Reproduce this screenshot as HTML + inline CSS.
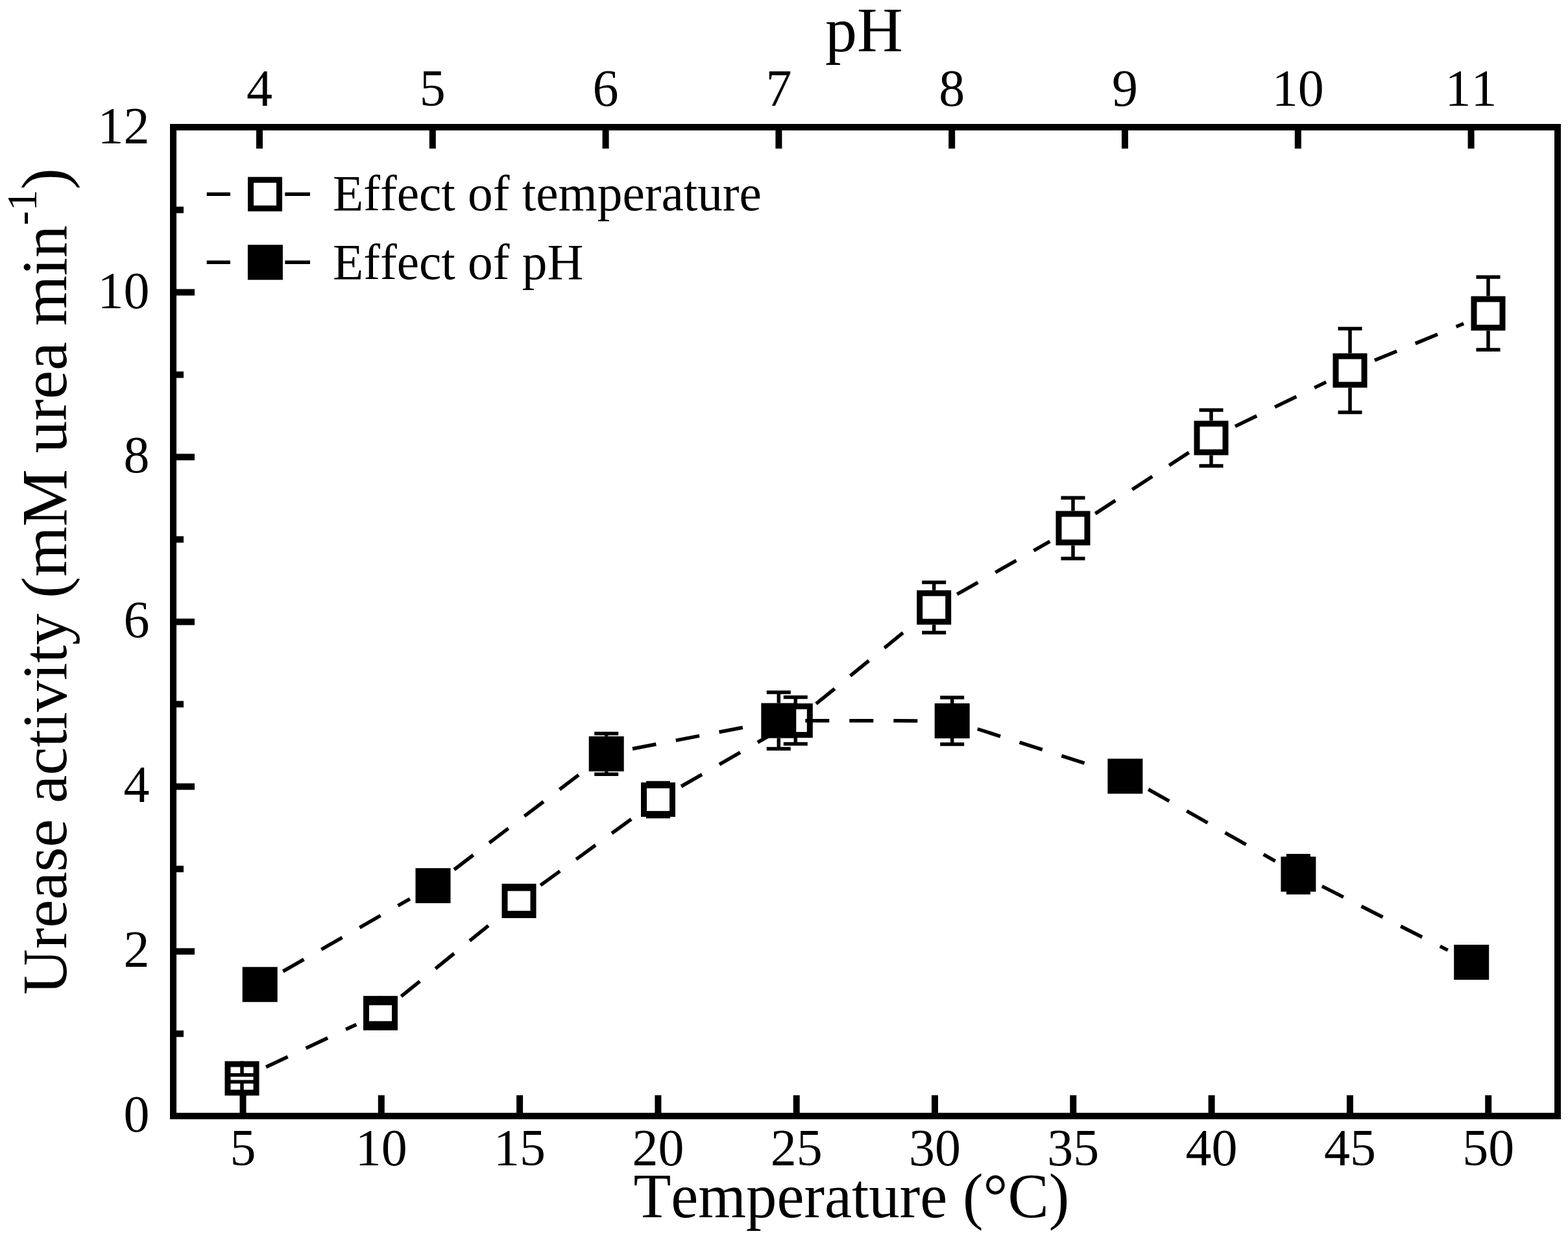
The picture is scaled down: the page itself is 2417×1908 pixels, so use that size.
<!DOCTYPE html>
<html><head><meta charset="utf-8"><title>Urease activity vs temperature and pH</title>
<style>
html,body{margin:0;padding:0;background:#fff;}
body{width:2417px;height:1908px;overflow:hidden;}
svg{display:block;}
text{font-family:'Liberation Serif','Times New Roman',serif;fill:#000;font-kerning:none;}
</style></head><body>
<svg width="2417" height="1908" viewBox="0 0 2417 1908">
<rect width="2417" height="1908" fill="#fff"/>
<g stroke="#000" stroke-width="5.5" stroke-dasharray="37 31" fill="none">
<line x1="410.1" y1="1644.5" x2="549.4" y2="1578.9"/><line x1="618.4" y1="1535.6" x2="768.1" y2="1414.3"/><line x1="833.2" y1="1364.4" x2="981.3" y2="1256.5"/><line x1="1050.0" y1="1212.0" x2="1190.8" y2="1131.0"/><line x1="1258.0" y1="1084.7" x2="1408.0" y2="962.1"/><line x1="1475.3" y1="915.9" x2="1618.4" y2="834.3"/><line x1="1688.3" y1="791.6" x2="1832.7" y2="697.4"/><line x1="1903.9" y1="657.1" x2="2044.1" y2="588.9"/><line x1="2118.9" y1="555.3" x2="2256.1" y2="498.7"/>
<line x1="436.3" y1="1497.0" x2="631.9" y2="1385.3"/><line x1="700.1" y1="1340.2" x2="902.1" y2="1186.6"/><line x1="975.0" y1="1154.0" x2="1160.0" y2="1118.4"/><line x1="1241.3" y1="1110.7" x2="1426.7" y2="1110.9"/><line x1="1506.8" y1="1123.5" x2="1695.3" y2="1183.8"/><line x1="1770.1" y1="1216.5" x2="1965.7" y2="1327.1"/><line x1="2037.9" y1="1365.9" x2="2231.7" y2="1464.4"/>
</g>
<g stroke="#000" stroke-width="5.5" fill="none">
<line x1="373.0" y1="1635.5" x2="373.0" y2="1656.8"/><line x1="373.0" y1="1688.5" x2="373.0" y2="1667.2"/><line x1="354.5" y1="1656.8" x2="391.5" y2="1656.8"/><line x1="354.5" y1="1667.2" x2="391.5" y2="1667.2"/>
<line x1="586.5" y1="1534.9" x2="586.5" y2="1546.4"/><line x1="586.5" y1="1587.9" x2="586.5" y2="1576.4"/><line x1="568.0" y1="1546.4" x2="605.0" y2="1546.4"/><line x1="568.0" y1="1576.4" x2="605.0" y2="1576.4"/>
<line x1="800.0" y1="1362.0" x2="800.0" y2="1370.5"/><line x1="800.0" y1="1415.0" x2="800.0" y2="1406.5"/><line x1="781.5" y1="1370.5" x2="818.5" y2="1370.5"/><line x1="781.5" y1="1406.5" x2="818.5" y2="1406.5"/>
<line x1="1014.5" y1="1205.9" x2="1014.5" y2="1206.4"/><line x1="1014.5" y1="1258.9" x2="1014.5" y2="1258.4"/><line x1="996.0" y1="1206.4" x2="1033.0" y2="1206.4"/><line x1="996.0" y1="1258.4" x2="1033.0" y2="1258.4"/>
<line x1="1226.3" y1="1084.1" x2="1226.3" y2="1074.6"/><line x1="1226.3" y1="1137.1" x2="1226.3" y2="1146.6"/><line x1="1207.8" y1="1074.6" x2="1244.8" y2="1074.6"/><line x1="1207.8" y1="1146.6" x2="1244.8" y2="1146.6"/>
<line x1="1439.7" y1="909.7" x2="1439.7" y2="897.5"/><line x1="1439.7" y1="962.7" x2="1439.7" y2="974.9"/><line x1="1421.2" y1="897.5" x2="1458.2" y2="897.5"/><line x1="1421.2" y1="974.9" x2="1458.2" y2="974.9"/>
<line x1="1654.0" y1="787.5" x2="1654.0" y2="767.3"/><line x1="1654.0" y1="840.5" x2="1654.0" y2="860.7"/><line x1="1635.5" y1="767.3" x2="1672.5" y2="767.3"/><line x1="1635.5" y1="860.7" x2="1672.5" y2="860.7"/>
<line x1="1867.0" y1="648.5" x2="1867.0" y2="632.0"/><line x1="1867.0" y1="701.5" x2="1867.0" y2="718.0"/><line x1="1848.5" y1="632.0" x2="1885.5" y2="632.0"/><line x1="1848.5" y1="718.0" x2="1885.5" y2="718.0"/>
<line x1="2081.0" y1="544.5" x2="2081.0" y2="506.5"/><line x1="2081.0" y1="597.5" x2="2081.0" y2="635.5"/><line x1="2062.5" y1="506.5" x2="2099.5" y2="506.5"/><line x1="2062.5" y1="635.5" x2="2099.5" y2="635.5"/>
<line x1="2294.0" y1="456.5" x2="2294.0" y2="427.0"/><line x1="2294.0" y1="509.5" x2="2294.0" y2="539.0"/><line x1="2275.5" y1="427.0" x2="2312.5" y2="427.0"/><line x1="2275.5" y1="539.0" x2="2312.5" y2="539.0"/>


<line x1="934.7" y1="1134.8" x2="934.7" y2="1130.4"/><line x1="934.7" y1="1188.8" x2="934.7" y2="1193.2"/><line x1="916.2" y1="1130.4" x2="953.2" y2="1130.4"/><line x1="916.2" y1="1193.2" x2="953.2" y2="1193.2"/>
<line x1="1200.3" y1="1083.6" x2="1200.3" y2="1067.1"/><line x1="1200.3" y1="1137.6" x2="1200.3" y2="1154.1"/><line x1="1181.8" y1="1067.1" x2="1218.8" y2="1067.1"/><line x1="1181.8" y1="1154.1" x2="1218.8" y2="1154.1"/>
<line x1="1467.7" y1="1084.0" x2="1467.7" y2="1075.0"/><line x1="1467.7" y1="1138.0" x2="1467.7" y2="1147.0"/><line x1="1449.2" y1="1075.0" x2="1486.2" y2="1075.0"/><line x1="1449.2" y1="1147.0" x2="1486.2" y2="1147.0"/>

<line x1="2001.4" y1="1320.3" x2="2001.4" y2="1318.8"/><line x1="2001.4" y1="1374.3" x2="2001.4" y2="1375.8"/><line x1="1982.9" y1="1318.8" x2="2019.9" y2="1318.8"/><line x1="1982.9" y1="1375.8" x2="2019.9" y2="1375.8"/>

</g>
<g stroke="#000" stroke-width="9" fill="none">
<rect x="351.0" y="1640.0" width="44.0" height="44.0"/>
<rect x="564.5" y="1539.4" width="44.0" height="44.0"/>
<rect x="778.0" y="1366.5" width="44.0" height="44.0"/>
<rect x="992.5" y="1210.4" width="44.0" height="44.0"/>
<rect x="1204.3" y="1088.6" width="44.0" height="44.0"/>
<rect x="1417.7" y="914.2" width="44.0" height="44.0"/>
<rect x="1632.0" y="792.0" width="44.0" height="44.0"/>
<rect x="1845.0" y="653.0" width="44.0" height="44.0"/>
<rect x="2059.0" y="549.0" width="44.0" height="44.0"/>
<rect x="2272.0" y="461.0" width="44.0" height="44.0"/>
</g>
<g fill="#000">
<rect x="373.7" y="1490.3" width="54" height="54"/>
<rect x="640.5" y="1338.0" width="54" height="54"/>
<rect x="907.7" y="1134.8" width="54" height="54"/>
<rect x="1173.3" y="1083.6" width="54" height="54"/>
<rect x="1440.7" y="1084.0" width="54" height="54"/>
<rect x="1707.4" y="1169.3" width="54" height="54"/>
<rect x="1974.4" y="1320.3" width="54" height="54"/>
<rect x="2241.2" y="1456.0" width="54" height="54"/>
</g>
<rect x="267" y="196" width="2134" height="1524" fill="none" stroke="#000" stroke-width="10"/>
<g stroke="#000" stroke-width="10">
<line x1="272.0" y1="1593.2" x2="283.0" y2="1593.2"/>
<line x1="272.0" y1="1466.3" x2="300.0" y2="1466.3"/>
<line x1="272.0" y1="1339.3" x2="283.0" y2="1339.3"/>
<line x1="272.0" y1="1212.3" x2="300.0" y2="1212.3"/>
<line x1="272.0" y1="1085.3" x2="283.0" y2="1085.3"/>
<line x1="272.0" y1="958.4" x2="300.0" y2="958.4"/>
<line x1="272.0" y1="831.4" x2="283.0" y2="831.4"/>
<line x1="272.0" y1="704.4" x2="300.0" y2="704.4"/>
<line x1="272.0" y1="577.5" x2="283.0" y2="577.5"/>
<line x1="272.0" y1="450.5" x2="300.0" y2="450.5"/>
<line x1="272.0" y1="323.5" x2="283.0" y2="323.5"/>
<line x1="374.5" y1="1715.0" x2="374.5" y2="1688.0"/>
<line x1="587.8" y1="1715.0" x2="587.8" y2="1688.0"/>
<line x1="801.1" y1="1715.0" x2="801.1" y2="1688.0"/>
<line x1="1014.4" y1="1715.0" x2="1014.4" y2="1688.0"/>
<line x1="1227.7" y1="1715.0" x2="1227.7" y2="1688.0"/>
<line x1="1441.0" y1="1715.0" x2="1441.0" y2="1688.0"/>
<line x1="1654.3" y1="1715.0" x2="1654.3" y2="1688.0"/>
<line x1="1867.6" y1="1715.0" x2="1867.6" y2="1688.0"/>
<line x1="2080.9" y1="1715.0" x2="2080.9" y2="1688.0"/>
<line x1="2294.2" y1="1715.0" x2="2294.2" y2="1688.0"/>
<line x1="400.0" y1="201.0" x2="400.0" y2="229.0"/>
<line x1="666.8" y1="201.0" x2="666.8" y2="229.0"/>
<line x1="933.6" y1="201.0" x2="933.6" y2="229.0"/>
<line x1="1200.4" y1="201.0" x2="1200.4" y2="229.0"/>
<line x1="1467.2" y1="201.0" x2="1467.2" y2="229.0"/>
<line x1="1734.0" y1="201.0" x2="1734.0" y2="229.0"/>
<line x1="2000.8" y1="201.0" x2="2000.8" y2="229.0"/>
<line x1="2267.6" y1="201.0" x2="2267.6" y2="229.0"/>
</g>
<g style="font-size:80px">
<text x="230.5" y="1744.2" text-anchor="end">0</text>
<text x="230.5" y="1490.3" text-anchor="end">2</text>
<text x="230.5" y="1236.3" text-anchor="end">4</text>
<text x="230.5" y="982.4" text-anchor="end">6</text>
<text x="230.5" y="728.4" text-anchor="end">8</text>
<text x="230.5" y="474.5" text-anchor="end">10</text>
<text x="230.5" y="220.6" text-anchor="end">12</text>
<text x="374.5" y="1796" text-anchor="middle">5</text>
<text x="587.8" y="1796" text-anchor="middle">10</text>
<text x="801.1" y="1796" text-anchor="middle">15</text>
<text x="1014.4" y="1796" text-anchor="middle">20</text>
<text x="1227.7" y="1796" text-anchor="middle">25</text>
<text x="1441.0" y="1796" text-anchor="middle">30</text>
<text x="1654.3" y="1796" text-anchor="middle">35</text>
<text x="1867.6" y="1796" text-anchor="middle">40</text>
<text x="2080.9" y="1796" text-anchor="middle">45</text>
<text x="2294.2" y="1796" text-anchor="middle">50</text>
<text x="400.0" y="163" text-anchor="middle">4</text>
<text x="666.8" y="163" text-anchor="middle">5</text>
<text x="933.6" y="163" text-anchor="middle">6</text>
<text x="1200.4" y="163" text-anchor="middle">7</text>
<text x="1467.2" y="163" text-anchor="middle">8</text>
<text x="1734.0" y="163" text-anchor="middle">9</text>
<text x="2000.8" y="163" text-anchor="middle">10</text>
<text x="2267.6" y="163" text-anchor="middle">11</text>
</g>
<text x="1332" y="78.6" text-anchor="middle" style="font-size:98px">pH</text>
<text transform="translate(1312.3,1876) scale(0.972,1)" text-anchor="middle" style="font-size:97.5px">Temperature (°C)</text>
<text transform="translate(101.5,1533) rotate(-90)" style="font-size:97.5px">Urease activity</text>
<text transform="translate(101.5,922) rotate(-90)" style="font-size:99.5px">(mM urea min<tspan dy="-46" style="font-size:66px">-1</tspan><tspan dy="46">)</tspan></text>
<line x1="318.7" y1="299.2" x2="355" y2="299.2" stroke="#000" stroke-width="5.5"/>
<line x1="439.3" y1="299.2" x2="478" y2="299.2" stroke="#000" stroke-width="5.5"/>
<rect x="386.5" y="277.2" width="44.0" height="44.0" fill="none" stroke="#000" stroke-width="9"/>
<text x="513" y="324.4" style="font-size:77.3px">Effect of temperature</text>
<line x1="318.7" y1="404.3" x2="355" y2="404.3" stroke="#000" stroke-width="5.5"/>
<line x1="439.3" y1="404.3" x2="478" y2="404.3" stroke="#000" stroke-width="5.5"/>
<rect x="381.9" y="377.3" width="54" height="54" fill="#000"/>
<text x="513" y="429.6" style="font-size:77.3px">Effect of pH</text>
</svg></body></html>
